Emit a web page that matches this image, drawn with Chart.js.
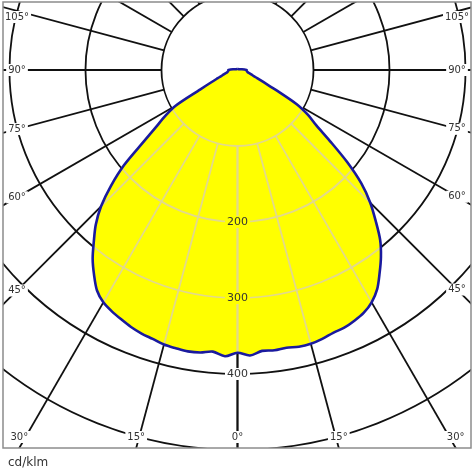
<!DOCTYPE html>
<html>
<head>
<meta charset="utf-8">
<script src="https://cdn.jsdelivr.net/npm/chart.js@4.4.1/dist/chart.umd.min.js"></script>
<style>
  html, body { margin: 0; padding: 0; background: #fff; }
  #wrap { width: 474px; height: 474px; position: relative; }
</style>
</head>
<body>
<div id="wrap"><canvas id="polarChart"></canvas></div>
<script>
const gammaAngles = [0, 2.5, 5, 7.5, 10, 12.5, 15, 17.5, 20, 22.5, 25, 27.5, 30, 32.5, 35, 37.5,
  40, 42.5, 45, 47.5, 50, 52.5, 55, 57.5, 60, 62.5, 65, 67.5, 70, 72.5, 75, 77.5, 80, 82.5, 85, 87.5,
  90, 100, 120, 150, 180];
const intensityRight = [372, 376, 371, 372, 371, 373, 373, 371, 368, 367, 364, 360, 353, 342, 326, 310,
  292, 269, 247, 221, 188, 153, 126, 110, 90, 58, 38, 28, 22, 19, 16, 14, 13, 12.5, 12, 12,
  12, 6, 2, 1.5, 1.5];
const intensityLeft = [372, 377, 372, 375, 376, 375, 374, 371, 369, 366, 362, 358, 353, 344, 329, 313,
  294, 276, 254, 226, 195, 157, 131, 113, 94, 55, 38, 28, 22, 19, 16, 14, 13, 12.5, 12, 12,
  12, 6, 2, 1.5, 1.5];

// grid: rings (cd/klm), labelled rings, spokes (deg)
const ringValues = [100, 200, 300, 400, 500, 600];
const ringLabels = [200, 300, 400];
const spokeAngles = [0, 15, 30, 45, 60, 75, 90, 105, 120, 135, 150, 165, 180];
const unitLabel = 'cd/klm';

const rad = d => d * Math.PI / 180;

// polar -> x/y points, right half from zenith down to nadir, then left half back up
const curvePoints = [];
for (let i = gammaAngles.length - 1; i >= 0; i--) {
  const g = rad(gammaAngles[i]);
  curvePoints.push({ x: intensityRight[i] * Math.sin(g), y: -intensityRight[i] * Math.cos(g) });
}
for (let i = 1; i < gammaAngles.length; i++) {
  const g = rad(gammaAngles[i]);
  curvePoints.push({ x: -intensityLeft[i] * Math.sin(g), y: -intensityLeft[i] * Math.cos(g) });
}

const YELLOW = '#ffff00';
const FONT = '"DejaVu Sans", Verdana, sans-serif';

function drawGrid(chart, color) {
  const { ctx, chartArea: a, scales: { x, y } } = chart;
  const cx = x.getPixelForValue(0), cy = y.getPixelForValue(0);
  const rpx = v => x.getPixelForValue(v) - cx;
  ctx.save();
  ctx.beginPath();
  ctx.rect(a.left, a.top, a.right - a.left, a.bottom - a.top);
  ctx.clip();
  ctx.strokeStyle = color;
  ctx.lineWidth = 1.8;
  ringValues.forEach(v => {
    ctx.beginPath();
    ctx.arc(cx, cy, rpx(v), 0, Math.PI * 2);
    ctx.stroke();
  });
  const r0 = rpx(ringValues[0]);
  const r1 = rpx(ringValues[ringValues.length - 1]) * 1.5;
  spokeAngles.forEach(d => [1, -1].forEach(s => {
    const ux = s * Math.sin(rad(d)), uy = Math.cos(rad(d));
    ctx.beginPath();
    ctx.moveTo(cx + ux * r0, cy + uy * r0);
    ctx.lineTo(cx + ux * r1, cy + uy * r1);
    ctx.stroke();
  }));
  ctx.restore();
}

function labelWithBackdrop(ctx, text, x, y, bg) {
  const w = ctx.measureText(text).width;
  ctx.fillStyle = bg;
  ctx.fillRect(x - w / 2 - 2, y - 6, w + 4, 12);
  ctx.fillStyle = '#333';
  ctx.fillText(text, x, y);
}

const polarGrid = {
  id: 'polarGrid',
  beforeDatasetsDraw(chart) {
    drawGrid(chart, '#111');
  },
  afterDatasetDraw(chart, args) {
    if (args.index !== 1) return;
    // light grid only inside the filled curve (same smoothed path as the fill)
    const ctx = chart.ctx;
    ctx.save();
    ctx.beginPath();
    args.meta.dataset.path(ctx);
    ctx.closePath();
    ctx.clip();
    drawGrid(chart, '#e2d98c');
    ctx.restore();
  },
  afterDraw(chart) {
    const { ctx, chartArea: a, scales: { x, y } } = chart;
    const cx = x.getPixelForValue(0), cy = y.getPixelForValue(0);
    ctx.save();
    ctx.font = '10px ' + FONT;
    ctx.textAlign = 'center';
    ctx.textBaseline = 'middle';

    // angle labels where the spokes run out of the frame
    spokeAngles.forEach(d => [1, -1].forEach(s => {
      if (d === 0 && s < 0) return;
      const ux = s * Math.sin(rad(d)), uy = Math.cos(rad(d));
      const tx = Math.abs(ux) < 1e-9 ? Infinity : ((ux > 0 ? a.right : a.left) - cx) / ux;
      const ty = Math.abs(uy) < 1e-9 ? Infinity : ((uy > 0 ? a.bottom : a.top) - cy) / uy;
      let lx, ly;
      if (ty < tx) {
        if (uy < 0) return;
        lx = cx + ux * ty;
        ly = a.bottom - 11;
      } else {
        lx = ux > 0 ? a.right - 14 : a.left + 14;
        ly = Math.max(cy + uy * (lx - cx) / ux, a.top + 15);
      }
      labelWithBackdrop(ctx, d + '°', lx, ly, '#fff');
    }));

    // ring values down the nadir spoke
    ctx.font = '11px ' + FONT;
    const nadir = Math.min(intensityLeft[0], intensityRight[0]);
    ringLabels.forEach(v => {
      const py = y.getPixelForValue(-v);
      if (py > a.bottom - 6) return;
      labelWithBackdrop(ctx, String(v), cx, py, v < nadir ? YELLOW : '#fff');
    });

    // frame and unit
    ctx.strokeStyle = '#8c8c8c';
    ctx.lineWidth = 1.5;
    ctx.strokeRect(a.left, a.top, a.right - a.left, a.bottom - a.top);
    ctx.font = '12px ' + FONT;
    ctx.textAlign = 'left';
    ctx.textBaseline = 'alphabetic';
    ctx.fillStyle = '#333';
    ctx.fillText(unitLabel, 8, a.bottom + 18);
    ctx.restore();
  }
};

const ctx = document.getElementById('polarChart').getContext('2d');
const lightChart = new Chart(ctx, {
  type: 'scatter',
  data: {
    datasets: [
      {
        label: 'outline',
        data: curvePoints,
        showLine: true,
        tension: 0.3,
        borderColor: '#1a1a9e',
        borderWidth: 2.6,
        pointRadius: 0,
        fill: false,
        order: 1
      },
      {
        label: 'area',
        data: curvePoints,
        showLine: true,
        tension: 0.3,
        borderColor: 'rgba(0,0,0,0)',
        borderWidth: 0,
        backgroundColor: YELLOW,
        pointRadius: 0,
        fill: 'shape',
        order: 2
      }
    ]
  },
  options: {
    animation: false,
    responsive: true,
    maintainAspectRatio: false,
    devicePixelRatio: 1,
    layout: { padding: { left: 3, right: 3, top: 2, bottom: 26 } },
    scales: {
      x: { type: 'linear', display: false, min: -308.5, max: 307.2 },
      y: { type: 'linear', display: false, min: -497.4, max: 89.5 }
    },
    plugins: {
      legend: { display: false },
      tooltip: { enabled: false }
    }
  },
  plugins: [polarGrid]
});
</script>
</body>
</html>
